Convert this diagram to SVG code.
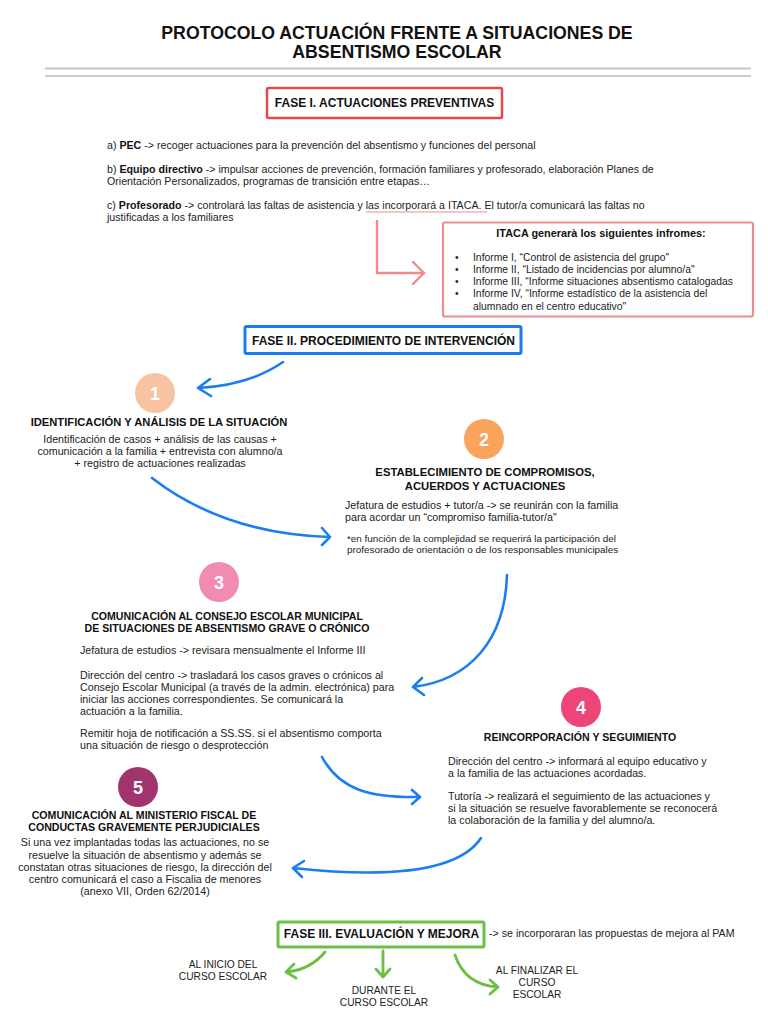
<svg xmlns="http://www.w3.org/2000/svg" width="768" height="1024" viewBox="0 0 768 1024">
<style>
text{font-family:"Liberation Sans",Arial,Helvetica,sans-serif;fill:#222}
.t{font-size:17.7px;font-weight:bold;fill:#111;text-anchor:middle}
.ph{font-size:12px;font-weight:bold;fill:#111;text-anchor:middle}
.b{font-size:10.65px}
.it{font-size:10.35px}
.sb{font-size:10.7px}
.st{font-weight:bold;fill:#111;text-anchor:middle}
.c{text-anchor:middle}
.num{font-size:18px;font-weight:bold;fill:#fff;text-anchor:middle}
.bl{fill:none;stroke:#1b7df2;stroke-width:2.6;stroke-linecap:round;stroke-linejoin:round}
.gr{fill:none;stroke:#6cbf42;stroke-width:2.8;stroke-linecap:round;stroke-linejoin:round}
.pk{fill:none;stroke:#f4898b;stroke-width:2.4;stroke-linecap:round;stroke-linejoin:round}
.g{font-size:10.2px;text-anchor:middle}
</style>
<rect width="768" height="1024" fill="#fff"/>
<g id="title">
<text class="t" x="397" y="39">PROTOCOLO ACTUACIÓN FRENTE A SITUACIONES DE</text>
<text class="t" x="397" y="58">ABSENTISMO ESCOLAR</text>
<line x1="45" y1="68.5" x2="751" y2="68.5" stroke="#c6c6c6" stroke-width="2"/>
<line x1="45" y1="76" x2="751" y2="76" stroke="#9a9a9a" stroke-width="1"/>
</g>
<g id="fase1">
<rect x="267" y="88" width="235" height="30" fill="none" stroke="#e5484d" stroke-width="2.5" rx="1.5"/>
<text class="ph" x="384.5" y="107">FASE I. ACTUACIONES PREVENTIVAS</text>
</g>
<g id="fase1-text">
<text class="b" x="107" y="149">a) <tspan font-weight="bold" fill="#111">PEC</tspan> -&gt; recoger actuaciones para la prevención del absentismo y funciones del personal</text>
<text class="b" x="107" y="173">b) <tspan font-weight="bold" fill="#111">Equipo directivo</tspan> -&gt; impulsar acciones de prevención, formación familiares y profesorado, elaboración Planes de</text>
<text class="b" x="107" y="185">Orientación Personalizados, programas de transición entre etapas…</text>
<text class="b" x="107" y="209">c) <tspan font-weight="bold" fill="#111">Profesorado</tspan> -&gt; controlará las faltas de asistencia y las incorporará a ITACA. El tutor/a comunicará las faltas no</text>
<text class="b" x="107" y="221">justificadas a los familiares</text>
<line x1="366" y1="212" x2="487" y2="212" stroke="#f4898b" stroke-width="1"/>
</g>
<g id="itaca">
<rect x="443" y="222.5" width="310" height="94" fill="#fff" stroke="#f28b8d" stroke-width="2.2" rx="2"/>
<text class="st" x="601" y="237" font-size="10.9">ITACA generarà los siguientes infromes:</text>
<g class="it">
<text x="455" y="261">•</text><text x="473" y="261">Informe I, “Control de asistencia del grupo"</text>
<text x="455" y="273">•</text><text x="473" y="273">Informe II, “Listado de incidencias por alumno/a"</text>
<text x="455" y="285">•</text><text x="473" y="285">Informe III, “Informe situaciones absentismo catalogadas</text>
<text x="455" y="297">•</text><text x="473" y="297">Informe IV, “Informe estadístico de la asistencia del</text>
<text x="473" y="310">alumnado en el centro educativo"</text>
</g>
</g>
<g id="fase2">
<rect x="245" y="326.5" width="276" height="27" fill="none" stroke="#1b7df2" stroke-width="3" rx="1.5"/>
<text class="ph" x="383.5" y="344.5">FASE II. PROCEDIMIENTO DE INTERVENCIÓN</text>
</g>
<g id="paso1">
<circle cx="155" cy="393" r="20" fill="#f6c4a1"/>
<text class="num" x="155" y="399.5">1</text>
<text class="st" x="159" y="426" font-size="11.2">IDENTIFICACIÓN Y ANÁLISIS DE LA SITUACIÓN</text>
<text class="sb c" x="160" y="443">Identificación de casos + análisis de las causas +</text>
<text class="sb c" x="160" y="455">comunicación a la familia + entrevista con alumno/a</text>
<text class="sb c" x="160" y="467">+ registro de actuaciones realizadas</text>
</g>
<g id="paso2">
<circle cx="484" cy="439" r="20" fill="#f9a35b"/>
<text class="num" x="484" y="445.5">2</text>
<text class="st" x="485" y="476" font-size="11.3">ESTABLECIMIENTO DE COMPROMISOS,</text>
<text class="st" x="485" y="490" font-size="11.3">ACUERDOS Y ACTUACIONES</text>
<text class="sb" x="345" y="509" font-size="10.5">Jefatura de estudios + tutor/a -&gt; se reunirán con la familia</text>
<text class="sb" x="345" y="521" font-size="10.5">para acordar un “compromiso familia-tutor/a"</text>
<text x="347" y="542" font-size="9.9">*en función de la complejidad se requerirá la participación del</text>
<text x="347" y="553" font-size="9.9">profesorado de orientación o de los responsables municipales</text>
</g>
<g id="paso3">
<circle cx="219" cy="582" r="20" fill="#f08cb1"/>
<text class="num" x="219" y="588.5">3</text>
<text class="st" x="227" y="620" font-size="10.6">COMUNICACIÓN AL CONSEJO ESCOLAR MUNICIPAL</text>
<text class="st" x="227" y="632" font-size="10.6">DE SITUACIONES DE ABSENTISMO GRAVE O CRÓNICO</text>
<text class="sb" x="80" y="654">Jefatura de estudios -&gt; revisara mensualmente el Informe III</text>
<text class="sb" x="80" y="679">Dirección del centro -&gt; trasladará los casos graves o crónicos al</text>
<text class="sb" x="80" y="691">Consejo Escolar Municipal (a través de la admin. electrónica) para</text>
<text class="sb" x="80" y="703">iniciar las acciones correspondientes. Se comunicará la</text>
<text class="sb" x="80" y="715">actuación a la familia.</text>
<text class="sb" x="80" y="737">Remitir hoja de notificación a SS.SS. si el absentismo comporta</text>
<text class="sb" x="80" y="749">una situación de riesgo o desprotección</text>
</g>
<g id="paso4">
<circle cx="581" cy="707" r="20" fill="#ed4577"/>
<text class="num" x="581" y="713.5">4</text>
<text class="st" x="580" y="741" font-size="10.6">REINCORPORACIÓN Y SEGUIMIENTO</text>
<text class="sb" x="448" y="765">Dirección del centro -&gt; informará al equipo educativo y</text>
<text class="sb" x="448" y="777">a la familia de las actuaciones acordadas.</text>
<text class="sb" x="448" y="800">Tutoría -&gt; realizará el seguimiento de las actuaciones y</text>
<text class="sb" x="448" y="812">si la situación se resuelve favorablemente se reconocerá</text>
<text class="sb" x="448" y="824">la colaboración de la familia y del alumno/a.</text>
</g>
<g id="paso5">
<circle cx="138" cy="787" r="20" fill="#a1346c"/>
<text class="num" x="138" y="793.5">5</text>
<text class="st" x="144" y="819" font-size="10.6">COMUNICACIÓN AL MINISTERIO FISCAL DE</text>
<text class="st" x="144" y="831" font-size="10.6">CONDUCTAS GRAVEMENTE PERJUDICIALES</text>
<text class="sb c" x="145" y="846">Si una vez implantadas todas las actuaciones, no se</text>
<text class="sb c" x="145" y="859">resuelve la situación de absentismo y además se</text>
<text class="sb c" x="145" y="871">constatan otras situaciones de riesgo, la dirección del</text>
<text class="sb c" x="145" y="883">centro comunicará el caso a Fiscalia de menores</text>
<text class="sb c" x="145" y="895">(anexo VII, Orden 62/2014)</text>
</g>
<g id="fase3">
<rect x="278" y="922" width="206" height="25" fill="none" stroke="#6cbf42" stroke-width="3" rx="1.5"/>
<text class="ph" x="381.5" y="938">FASE III. EVALUACIÓN Y MEJORA</text>
<text class="b" x="489" y="937">-&gt; se incorporaran las propuestas de mejora al PAM</text>
</g>
<g id="inicio"><text class="g" x="223" y="968">AL INICIO DEL</text><text class="g" x="223" y="980">CURSO ESCOLAR</text></g>
<g id="durante"><text class="g" x="384" y="994">DURANTE EL</text><text class="g" x="384" y="1006">CURSO ESCOLAR</text></g>
<g id="final"><text class="g" x="537" y="974">AL FINALIZAR EL</text><text class="g" x="537" y="986">CURSO</text><text class="g" x="537" y="998">ESCOLAR</text></g>
<g id="connectors">
<path class="pk" d="M377,221 L377,273 L424,273 M413,262 L424,273 L413,284"/>
<path class="bl" d="M283,362 Q250,385 198,388 M210,379 L198,388 L211,396"/>
<path class="bl" d="M152,478 C200,515 260,535 330,537 M322,528 L330,537 L322,545"/>
<path class="bl" d="M507,575 C505,640 470,680 413,687 M422,678 L413,687 L424,695"/>
<path class="bl" d="M322,757 C340,790 370,798 420,797 M412,790 L420,797 L412,804"/>
<path class="bl" d="M481,838 Q450,885 293,868 M304,861 L293,868 L302,877"/>
<path class="gr" d="M325,952 Q310,970 286,972 M294,964 L286,972 L296,978"/>
<path class="gr" d="M383,951 L383,977 M376,969 L383,977 L390,969"/>
<path class="gr" d="M455,955 Q465,985 498,987 M490,980 L498,987 L490,994"/>
</g>
</svg>
